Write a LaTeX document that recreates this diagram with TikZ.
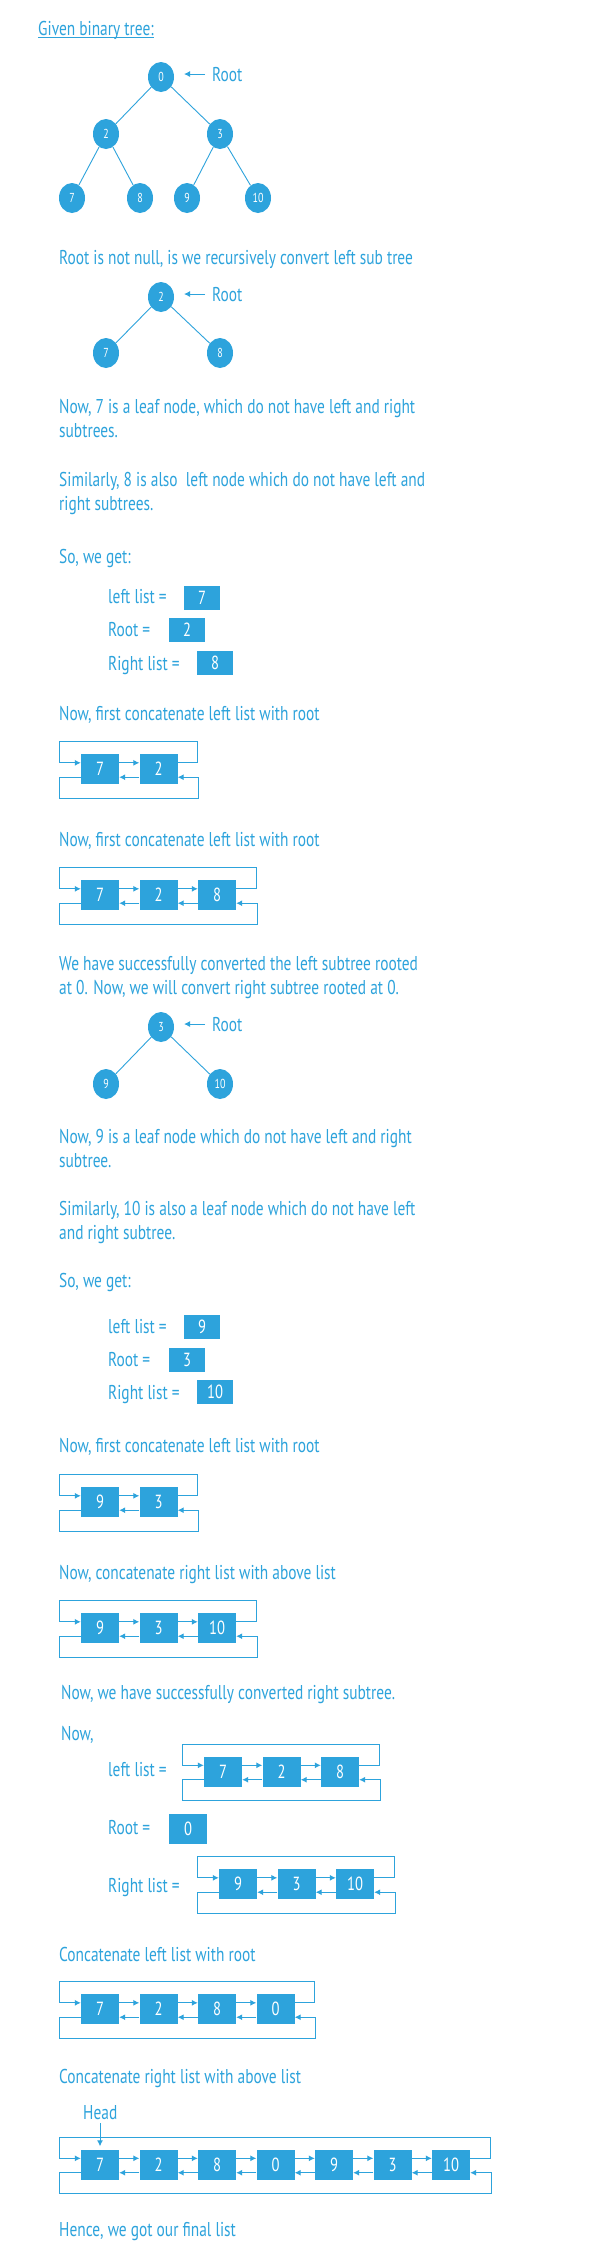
\documentclass[tikz,border=0pt]{standalone}
\usepackage{fontspec}
\setmainfont{PT Sans}[FakeStretch=0.77]
\usetikzlibrary{arrows.meta,shapes.geometric,calc}
\definecolor{mblue}{RGB}{45,163,220}
\tikzset{
  txt/.style={anchor=base west, inner sep=0pt, text=mblue, font=\fontsize{20}{24}\selectfont},
  tnode/.style={ellipse, fill=mblue, minimum width=26pt, minimum height=30pt, inner sep=0pt, text=white, font=\fontsize{13}{13}\selectfont},
  lbox/.style={rectangle, fill=mblue, minimum width=38pt, minimum height=30pt, inner sep=0pt, text=white, font=\fontsize{19}{19}\selectfont},
  sbox/.style={rectangle, fill=mblue, minimum width=36pt, minimum height=24pt, inner sep=0pt, text=white, font=\fontsize{19}{19}\selectfont},
  edge/.style={draw=mblue, line width=0.9pt},
  arr/.style={draw=mblue, line width=1pt, -{Latex[length=6pt,width=6pt]}},
}
\newcommand{\dlist}[5]{%
  \foreach \lab [count=\i] in {#5} {
    \node[lbox] (#1\i) at ({#2+58.5*(\i-1)},#3) {\lab};
  }
  \pgfmathtruncatemacro{\lastm}{#4-1}
  \foreach \i in {1,...,\lastm} {
    \pgfmathtruncatemacro{\j}{\i+1}
    \draw[arr] ($(#1\i.north east)+(0,9)$) -- ($(#1\j.north west)+(0,9)$);
    \draw[arr] ($(#1\j.south west)+(0,-7)$) -- ($(#1\i.south east)+(0,-7)$);
  }
  \draw[arr] ($(#1#4.north east)+(0,9)$) -- ($(#1#4.north east)+(20,9)$) -- ($(#1#4.north east)+(20,-12)$) -- ($(#11.north west)+(-21,-12)$) -- ($(#11.north west)+(-21,9)$) -- ($(#11.north west)+(0,9)$);
  \draw[arr] ($(#11.south west)+(0,-7)$) -- ($(#11.south west)+(-21,-7)$) -- ($(#11.south west)+(-21,14)$) -- ($(#1#4.south east)+(21,14)$) -- ($(#1#4.south east)+(21,-7)$) -- ($(#1#4.south east)+(0,-7)$);
}
\begin{document}
\begin{tikzpicture}[x=1pt,y=-1pt]
\fill[white] (0,0) rectangle (597,2254);
\useasboundingbox (0,0) rectangle (597,2254);

% title
\node[txt] (title) at (38,35) {Given binary tree:};
\draw[mblue, line width=0.8pt] ($(title.base west)+(0,2.5)$) -- ($(title.base east)+(0,2.5)$);

% tree 1
\node[tnode] (a0) at (161,77) {0};
\node[tnode] (a2) at (106,134) {2};
\node[tnode] (a3) at (220,134) {3};
\node[tnode] (a7) at (72,198) {7};
\node[tnode] (a8) at (140,198) {8};
\node[tnode] (a9) at (187,198) {9};
\node[tnode] (a10) at (258,198) {10};
\draw[edge] (a0) -- (a2); \draw[edge] (a0) -- (a3);
\draw[edge] (a2) -- (a7); \draw[edge] (a2) -- (a8);
\draw[edge] (a3) -- (a9); \draw[edge] (a3) -- (a10);
\node[txt] (ra) at (212,81) {Root};
\coordinate (rat) at (184,75);
\draw[arr] ($(ra.west)+(-7,0)$) -- (rat |- {$(ra.west)$});

\node[txt] (s1) at (59,264) {Root is not null, is we recursively convert left sub tree};

% tree 2
\node[tnode] (b2) at (161,297) {2};
\node[tnode] (b7) at (106,353) {7};
\node[tnode] (b8) at (220,353) {8};
\draw[edge] (b2) -- (b7); \draw[edge] (b2) -- (b8);
\node[txt] (rb) at (212,301) {Root};
\coordinate (rbt) at (184,295);
\draw[arr] ($(rb.west)+(-7,0)$) -- (rbt |- {$(rb.west)$});

\node[txt] (s2) at (59,413) {Now, 7 is a leaf node, which do not have left and right};
\node[txt] (s3) at (59,437) {subtrees.};
\node[txt] (s4) at (59,486) {Similarly, 8 is also\ \ left node which do not have left and};
\node[txt] (s5) at (59,510) {right subtrees.};
\node[txt] (s6) at (59,563) {So, we get:};

\node[txt] (l1) at (108,603) {left list =};
\node[sbox] (c7) at (202,598) {7};
\node[txt] (l2) at (108,636) {Root =};
\node[sbox] (c2) at (187,630) {2};
\node[txt] (l3) at (108,670) {Right list =};
\node[sbox] (c8) at (215,662.5) {8};

\node[txt] (s7) at (59,720) {Now, first concatenate left list with root};
\dlist{A}{100}{769}{2}{7,2}
\node[txt] (s8) at (59,846) {Now, first concatenate left list with root};
\dlist{B}{100}{895}{3}{7,2,8}

\node[txt] (s9) at (59,970) {We have successfully converted the left subtree rooted};
\node[txt] (s10) at (59,994) {at 0. Now, we will convert right subtree rooted at 0.};

% tree 3
\node[tnode] (d3) at (161,1027) {3};
\node[tnode] (d9) at (106,1084) {9};
\node[tnode] (d10) at (220,1084) {10};
\draw[edge] (d3) -- (d9); \draw[edge] (d3) -- (d10);
\node[txt] (rd) at (212,1031) {Root};
\coordinate (rdt) at (184,1026);
\draw[arr] ($(rd.west)+(-7,0)$) -- (rdt |- {$(rd.west)$});

\node[txt] (s11) at (59,1143) {Now, 9 is a leaf node which do not have left and right};
\node[txt] (s12) at (59,1167) {subtree.};
\node[txt] (s13) at (59,1215) {Similarly, 10 is also a leaf node which do not have left};
\node[txt] (s14) at (59,1239) {and right subtree.};
\node[txt] (s15) at (59,1287) {So, we get:};

\node[txt] (m1) at (108,1333) {left list =};
\node[sbox] (e9) at (202,1327) {9};
\node[txt] (m2) at (108,1366) {Root =};
\node[sbox] (e3) at (187,1359.5) {3};
\node[txt] (m3) at (108,1399) {Right list =};
\node[sbox] (e10) at (215,1392) {10};

\node[txt] (s16) at (59,1452) {Now, first concatenate left list with root};
\dlist{C}{100}{1502}{2}{9,3}
\node[txt] (s17) at (59,1579) {Now, concatenate right list with above list};
\dlist{D}{100}{1628}{3}{9,3,10}

\node[txt] (s18) at (61,1699) {Now, we have successfully converted right subtree.};
\node[txt] (s19) at (61,1740) {Now,};
\node[txt] (n1) at (108,1776) {left list =};
\dlist{E}{223}{1771.5}{3}{7,2,8}
\node[txt] (n2) at (108,1834) {Root =};
\node[lbox] (f0) at (188,1828.5) {0};
\node[txt] (n3) at (108,1892) {Right list =};
\dlist{F}{238}{1884}{3}{9,3,10}

\node[txt] (s20) at (59,1961) {Concatenate left list with root};
\dlist{G}{100}{2009}{4}{7,2,8,0}
\node[txt] (s21) at (59,2083) {Concatenate right list with above list};
\node[txt] (head) at (83,2119) {Head};
\dlist{H}{100}{2164.5}{7}{7,2,8,0,9,3,10}
\draw[arr] ($(H1.north |- head.south)+(0,4)$) -- ($(H1.north)+(0,-3)$);

\node[txt] (s22) at (59,2236) {Hence, we got our final list};
\end{tikzpicture}
\end{document}
